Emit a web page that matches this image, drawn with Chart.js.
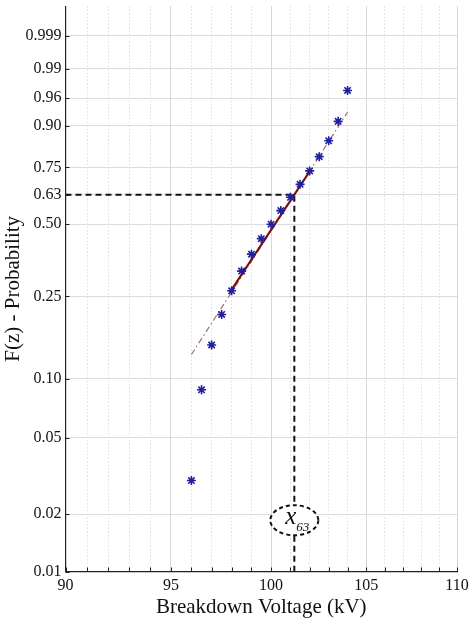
<!DOCTYPE html>
<html>
<head>
<meta charset="utf-8">
<script src="https://cdn.jsdelivr.net/npm/chart.js@4"></script>
<style>
  html, body { margin: 0; padding: 0; background: #fff; }
  #wrap { width: 474px; height: 620px; position: relative; }
</style>
</head>
<body>
<div id="wrap"><canvas id="weibullCanvas"></canvas></div>
<script>
// measured breakdown voltages (kV) and their plotting probabilities
const voltage = [96, 96.5, 97, 97.5, 98, 98.5, 99, 99.5, 100, 100.5, 101, 101.5, 102, 102.5, 103, 103.5, 104];
const probability = [0.03, 0.088, 0.147, 0.206, 0.265, 0.324, 0.382, 0.441, 0.5, 0.559, 0.618, 0.676, 0.735, 0.794, 0.853, 0.912, 0.971];

// fitted Weibull line (dash-dot) and the solid part of it
const fitX = [96, 104];
const fitF = [0.132, 0.934];
const solidX = [97.9, 102];
const solidF = [0.26, 0.733];

// 63% guide lines
const x63 = 101.2;
const f63 = 0.63;
const guideX = [90, x63, x63];
const guideF = [f63, f63, 0.01];

// axis ticks
const xTicks = [90, 91, 92, 93, 94, 95, 96, 97, 98, 99, 100, 101, 102, 103, 104, 105, 106, 107, 108, 109, 110];
const xLabels = [90, 95, 100, 105, 110];
const yTicks = [0.01, 0.02, 0.05, 0.10, 0.25, 0.50, 0.63, 0.75, 0.90, 0.96, 0.99, 0.999];
const yLabels = ["0.01", "0.02", "0.05", "0.10", "0.25", "0.50", "0.63", "0.75", "0.90", "0.96", "0.99", "0.999"];

const serif = "'Liberation Serif', 'Times New Roman', serif";

// Weibull probability scale: ln(-ln(1-F))
const weib = (f) => Math.log(-Math.log(1 - f));

class WeibullScale extends Chart.Scale {
  static id = "weibull";
  static defaults = {};
  determineDataLimits() {
    this.min = this.options.min;
    this.max = this.options.max;
  }
  buildTicks() {
    return yTicks.map((v) => ({ value: v }));
  }
  configure() {
    super.configure();
    this._wStart = weib(this.min);
    this._wRange = weib(this.max) - this._wStart;
  }
  getPixelForValue(v) {
    if (v === null || v === undefined) return NaN;
    return this.getPixelForDecimal((weib(v) - this._wStart) / this._wRange);
  }
  getValueForPixel(p) {
    const t = this._wStart + this.getDecimalForPixel(p) * this._wRange;
    return 1 - Math.exp(-Math.exp(t));
  }
}
Chart.register(WeibullScale);

const pts = (xs, ys) => xs.map((x, i) => ({ x: x, y: ys[i] }));

// inward tick marks, like the original plot
const innerTicks = {
  id: "innerTicks",
  afterDatasetsDraw(chart) {
    const { ctx, chartArea } = chart;
    const xs = chart.scales.x, ys = chart.scales.y;
    ctx.save();
    ctx.strokeStyle = "#222";
    ctx.lineWidth = 1;
    ctx.beginPath();
    xs.ticks.forEach((t) => {
      const px = Math.round(xs.getPixelForValue(t.value)) + 0.5;
      ctx.moveTo(px, chartArea.bottom);
      ctx.lineTo(px, chartArea.bottom - 4);
    });
    ys.ticks.forEach((t) => {
      const py = Math.round(ys.getPixelForValue(t.value)) + 0.5;
      ctx.moveTo(chartArea.left, py);
      ctx.lineTo(chartArea.left + 4, py);
    });
    ctx.stroke();
    ctx.restore();
  }
};

// dashed ellipse with the x63 label
const x63Label = {
  id: "x63Label",
  afterDatasetsDraw(chart) {
    const { ctx } = chart;
    const cx = chart.scales.x.getPixelForValue(x63);
    const cy = chart.scales.y.getPixelForValue(0.0186);
    ctx.save();
    ctx.beginPath();
    ctx.ellipse(cx, cy, 24, 15, 0, 0, Math.PI * 2);
    ctx.fillStyle = "#fff";
    ctx.fill();
    ctx.setLineDash([4, 3]);
    ctx.lineWidth = 2;
    ctx.strokeStyle = "#111";
    ctx.stroke();
    ctx.setLineDash([]);
    ctx.fillStyle = "#111";
    ctx.textBaseline = "alphabetic";
    ctx.font = "italic 25px " + serif;
    ctx.textAlign = "right";
    ctx.fillText("x", cx + 2, cy + 4);
    ctx.font = "italic 13px " + serif;
    ctx.textAlign = "left";
    ctx.fillText("63", cx + 2, cy + 11);
    ctx.restore();
  }
};

const config = {
  type: "scatter",
  data: {
    datasets: [
      {
        label: "Data",
        data: pts(voltage, probability),
        pointStyle: "star",
        pointRadius: 4.5,
        pointHoverRadius: 4.5,
        borderColor: "#1f1fa0",
        backgroundColor: "#1f1fa0",
        pointBorderWidth: 1.6,
        showLine: false
      },
      {
        label: "Solid fit",
        data: pts(solidX, solidF),
        showLine: true,
        borderColor: "#7a0c0c",
        borderWidth: 2,
        pointRadius: 0
      },
      {
        label: "Guide",
        data: pts(guideX, guideF),
        showLine: true,
        borderColor: "#111",
        borderWidth: 2,
        borderDash: [6, 4],
        pointRadius: 0
      },
      {
        label: "Fit",
        data: pts(fitX, fitF),
        showLine: true,
        borderColor: "#a86a6a",
        borderWidth: 1.2,
        borderDash: [6, 3, 1.5, 3],
        pointRadius: 0
      }
    ]
  },
  options: {
    responsive: true,
    maintainAspectRatio: false,
    animation: false,
    layout: { padding: { top: 4, right: 17, left: 0, bottom: 0 } },
    plugins: {
      legend: { display: false },
      tooltip: { enabled: false }
    },
    scales: {
      x: {
        type: "logarithmic",
        min: 90,
        max: 110,
        afterBuildTicks: (scale) => {
          scale.ticks = xTicks.map((v) => ({ value: v }));
        },
        afterFit: (scale) => {
          scale.height = 48.5;
        },
        grid: {
          drawTicks: false,
          lineWidth: 1,
          color: (c) => (c.tick && xLabels.includes(c.tick.value) ? "#d8d8d8" : "#dedede")
        },
        border: {
          display: true,
          color: "#222",
          width: 1.2,
          dash: (c) => (c.tick && !xLabels.includes(c.tick.value) ? [1.5, 2] : [])
        },
        ticks: {
          autoSkip: false,
          maxRotation: 0,
          padding: 5,
          color: "#111",
          font: { family: serif, size: 16 },
          callback: (v) => (xLabels.includes(v) ? String(v) : "")
        },
        title: {
          display: true,
          text: "Breakdown Voltage (kV)",
          color: "#111",
          font: { family: serif, size: 21 },
          padding: { top: 0, bottom: 0 }
        }
      },
      y: {
        type: "weibull",
        min: 0.01,
        max: 0.99995,
        afterFit: (scale) => {
          scale.width = 65.5;
          scale.paddingTop = 0;
          scale.paddingBottom = 0;
        },
        grid: {
          drawTicks: false,
          lineWidth: 1,
          color: "#dcdcdc"
        },
        border: { display: true, color: "#222", width: 1.2 },
        ticks: {
          padding: 4,
          color: "#111",
          font: { family: serif, size: 16 },
          callback: (v, i) => yLabels[i]
        },
        title: {
          display: true,
          text: "F(z) - Probability",
          color: "#111",
          font: { family: serif, size: 21 },
          padding: { top: 1, bottom: 0 }
        }
      }
    }
  },
  plugins: [innerTicks, x63Label]
};

const canvas = document.getElementById("weibullCanvas");
if (canvas) {
  new Chart(canvas.getContext("2d"), config);
} else {
  console.error("canvas not found");
}
</script>
</body>
</html>
